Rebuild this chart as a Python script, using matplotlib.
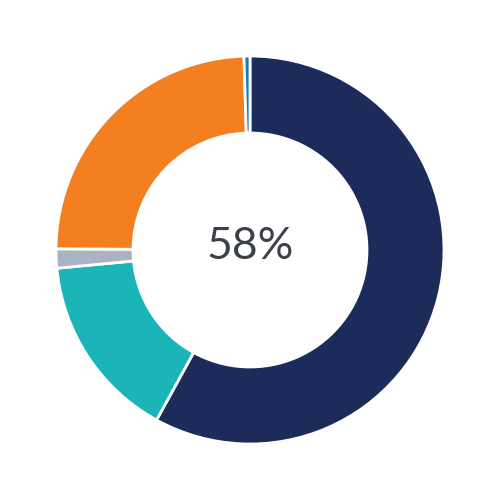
import matplotlib
matplotlib.use("Agg")
from matplotlib import pyplot as plt

# segment shares, clockwise from 12 o'clock
labels = ["Navy", "Teal", "Gray", "Orange", "Blue"]
shares = [58.0, 15.5, 1.6, 24.4, 0.5]
colors = ["#1c2b5a", "#1bb5b9", "#aab3c2", "#f47f20", "#1f7ab4"]
center_label = "58%"


def main():
    figure = plt.figure(figsize=(5, 5), dpi=100)
    axis = figure.add_axes([0, 0, 1, 1])

    axis.pie(
        shares,
        colors=colors,
        startangle=90,
        counterclock=False,
        radius=1.0,
        wedgeprops=dict(width=0.397, edgecolor="white", linewidth=2)
    )

    axis.text(
        0, 0.02,
        center_label,
        ha="center",
        va="center",
        fontsize=32,
        family=["Lato", "DejaVu Sans"],
        color="#3c4048"
    )

    limit = 250 / 194
    axis.set_xlim(-limit, limit)
    axis.set_ylim(-limit, limit)
    axis.set_aspect("equal")
    axis.axis("off")

    figure.savefig("out.png", dpi=100, facecolor="white")


main()
